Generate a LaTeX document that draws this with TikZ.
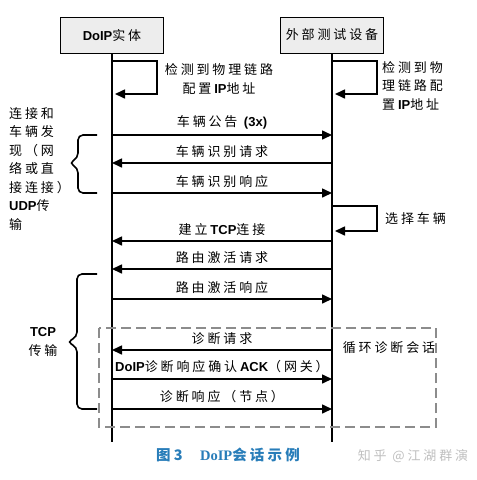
\documentclass[tikz,border=0pt]{standalone}
\usepackage{fontspec}
\setmainfont{Liberation Sans}
\newfontfamily\zh[LetterSpace=22]{Noto Sans CJK SC}
\newfontfamily\capserif{Liberation Serif}
\usetikzlibrary{arrows.meta}
\definecolor{capblue}{RGB}{40,125,185}
\newcommand{\hz}[1]{{\zh #1}}

\begin{document}
\begin{tikzpicture}[x=1pt,y=-1pt,
  every node/.style={font=\fontsize{13}{18.5}\selectfont,inner sep=0pt},
  actor/.style={draw,fill=black!7,line width=1pt,minimum width=103pt,minimum height=36pt},
  life/.style={line width=1.6pt},
  msg/.style={line width=1.6pt,-{Triangle[length=10pt,width=9pt]}},
  brk/.style={line width=1.6pt,rounded corners=5pt},
  loopbox/.style={draw=black!45,line width=1.8pt,dash pattern=on 10pt off 5pt}]
\useasboundingbox (0,0) rectangle (477,480);

\node[actor] (doip) at (112,35) {\textbf{DoIP}\hz{实体}};
\node[actor] (tester) at (332,35) {\hz{外部测试设备}};
\coordinate (doipend) at (112,442);
\coordinate (testerend) at (332,442);
\draw[life] (doip.south) -- (doipend);
\draw[life] (tester.south) -- (testerend);

% dashed loop
\draw[loopbox] (99,328) rectangle (436,427);

% self loops
\coordinate (d0) at (112,61);
\coordinate (d0a) at (157,61);
\coordinate (d0b) at (157,94);
\coordinate (d0e) at (115,94);
\draw[msg] (d0) -- (d0a) -- (d0b) -- (d0e);
\node[align=center] (d0t) at (219,79) {\hz{检测到物理链路}\\\hz{配置}\textbf{IP}\hz{地址}};

\coordinate (t0) at (332,61);
\coordinate (t0a) at (377,61);
\coordinate (t0b) at (377,94);
\coordinate (t0e) at (335,94);
\draw[msg] (t0) -- (t0a) -- (t0b) -- (t0e);
\node[align=left,anchor=north west] (t0t) at (382,61) {\hz{检测到物}\\\hz{理链路配}\\\hz{置}\textbf{IP}\hz{地址}};

\coordinate (t1) at (332,206);
\coordinate (t1a) at (377,206);
\coordinate (t1b) at (377,231);
\coordinate (t1e) at (335,231);
\draw[msg] (t1) -- (t1a) -- (t1b) -- (t1e);
\node[anchor=west] (t1t) at (385,219) {\hz{选择车辆}};

% messages
\coordinate (d1) at (112,135);  \coordinate (t2) at (332,135);
\coordinate (d2) at (112,163);  \coordinate (t3) at (332,163);
\coordinate (d3) at (112,193);  \coordinate (t4) at (332,193);
\coordinate (d4) at (112,241);  \coordinate (t5) at (332,241);
\coordinate (d5) at (112,269);  \coordinate (t6) at (332,269);
\coordinate (d6) at (112,299);  \coordinate (t7) at (332,299);
\coordinate (d7) at (112,350);  \coordinate (t8) at (332,350);
\coordinate (d8) at (112,379);  \coordinate (t9) at (332,379);
\coordinate (d9) at (112,409);  \coordinate (t10) at (332,409);

\draw[msg] (d1) -- (t2) node[midway,above=5pt] {\hz{车辆公告} \textbf{(3x)}};
\draw[msg] (t3) -- (d2) node[midway,above=5pt] {\hz{车辆识别请求}};
\draw[msg] (d3) -- (t4) node[midway,above=5pt] {\hz{车辆识别响应}};
\draw[msg] (t5) -- (d4) node[midway,above=5pt] {\hz{建立}\textbf{TCP}\hz{连接}};
\draw[msg] (t6) -- (d5) node[midway,above=5pt] {\hz{路由激活请求}};
\draw[msg] (d6) -- (t7) node[midway,above=5pt] {\hz{路由激活响应}};
\draw[msg] (t8) -- (d7) node[midway,above=5pt] {\hz{诊断请求}};
\draw[msg] (d8) -- (t9) node[midway,above=5pt] {\textbf{DoIP}\hz{诊断响应确认}\textbf{ACK}\hz{（网关）}};
\draw[msg] (d9) -- (t10) node[midway,above=5pt] {\hz{诊断响应（节点）}};

\node (loopt) at (389,348) {\hz{循环诊断会话}};

% braces
\draw[brk] (97,135) -- (78,135) -- (78,158) -- (69,163) -- (78,168) -- (78,193) -- (97,193);
\draw[brk] (97,274) -- (77,274) -- (77,337) -- (67,342) -- (77,347) -- (77,409) -- (97,409);
\node[align=left,anchor=north west] (udp) at (9,107) {\hz{连接和}\\\hz{车辆发}\\\hz{现（网}\\\hz{络或直}\\\hz{接连接）}\\\textbf{UDP}\hz{传}\\\hz{输}};
\node[align=center] (tcp) at (43,342) {\textbf{TCP}\\\hz{传输}};

% caption
\node (cap) at (228,455) {\color{capblue}\fontsize{14.5}{16}\selectfont\hz{\bfseries 图3}\hspace{1.2em}\capserif\bfseries DoIP\hz{会话示例}};
\node (mark) at (413,456) {\color{black!25}\hz{知乎 @江湖群演}};
\end{tikzpicture}
\end{document}
